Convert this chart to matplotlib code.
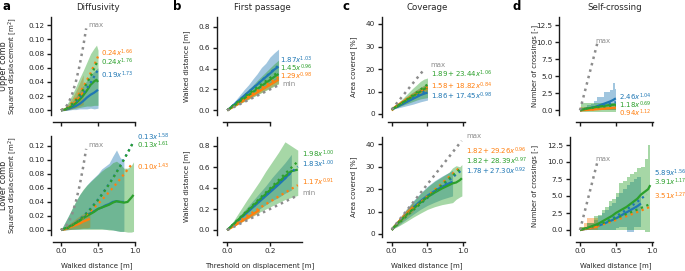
import matplotlib
matplotlib.use("Agg")
import matplotlib.pyplot as plt

W, H = 685, 271
BLUE, ORANGE, GREEN, GREY = "#1f77b4", "#ff7f0e", "#2ca02c", "#8c8c8c"

# ---------------- a: diffusivity ----------------
A_UP_BLUE = dict(x=[0, .05, .1, .15, .2, .25, .3, .35, .4, .45, .5],
                 mean=[0, .0005, .002, .004, .006, .009, .013, .018, .022, .025, .029],
                 lo=[0, 0, 0, .001, .001, .002, .002, .002, .003, .002, .003],
                 hi=[0, .002, .006, .012, .019, .027, .035, .042, .05, .055, .06])
A_UP_ORANGE = dict(x=[0, .05, .1, .15, .2, .25, .3],
                   mean=[0, .001, .003, .007, .012, .018, .025],
                   lo=[0, 0, .001, .002, .004, .006, .008],
                   hi=[0, .003, .009, .017, .027, .038, .05])
A_UP_GREEN = dict(x=[0, .05, .1, .15, .2, .25, .3, .35, .4, .45, .48, .5],
                  mean=[0, .001, .003, .006, .01, .015, .021, .028, .036, .041, .043, .04],
                  lo=[0, 0, .001, .002, .003, .004, .005, .006, .006, .007, .007, .007],
                  hi=[0, .004, .012, .022, .033, .045, .056, .068, .08, .088, .092, .085])
A_UP_FIT = {BLUE: ([0, .1, .2, .3, .4, .5], [0, .0035, .0117, .0237, .0389, .0573]),
            ORANGE: ([0, .1, .2, .3, .4, .5], [0, .0052, .0166, .0326, .0525, .0759]),
            GREEN: ([0, .1, .2, .3, .4, .5], [0, .0042, .0141, .0289, .0478, .0708])}
A_MAX = dict(x=[0, .05, .1, .15, .2, .25, .3, .34],
             y=[0, .0025, .01, .0225, .04, .0625, .09, .1156])
A_UP_TEXT = [(ORANGE, r"$0.24x^{1.66}$"), (GREEN, r"$0.24x^{1.76}$"), (BLUE, r"$0.19x^{1.73}$")]

A_LO_BLUE = dict(x=[0, .05, .1, .15, .2, .25, .3, .35, .4, .45, .5, .55, .6, .65, .7, .75, .8, .85],
                 mean=[0, .002, .004, .007, .01, .014, .017, .021, .024, .027, .03, .032, .035, .037, .04, .041, .04, .04],
                 lo=[0, 0, .0005, .001, .001, .0015, .002, .002, .002, .002, .002, .002, .001, .001, 0, -.001, -.002, -.002],
                 hi=[0, .01, .02, .03, .04, .05, .057, .064, .07, .075, .08, .087, .091, .095, .105, .114, .103, .099])
A_LO_ORANGE = dict(x=[0, .05, .1, .15, .2, .25, .3, .35, .39],
                   mean=[0, .001, .003, .005, .007, .009, .012, .014, .016],
                   lo=[0, 0, .001, .001, .002, .002, .003, .003, .004],
                   hi=[0, .004, .008, .012, .016, .02, .023, .025, .027])
A_LO_GREEN = dict(x=[0, .05, .1, .15, .2, .25, .3, .35, .4, .45, .5, .55, .6, .65, .7, .75, .8, .85, .9, .95, .98],
                  mean=[0, .002, .004, .007, .01, .013, .017, .02, .023, .026, .03, .032, .034, .036, .039, .041, .04, .039, .04, .046, .05],
                  lo=[0, 0, .0005, .001, .001, .001, .001, .001, .001, .001, .001, .001, .001, 0, 0, -.001, -.002, -.002, -.003, -.003, -.002],
                  hi=[0, .01, .02, .031, .041, .05, .058, .064, .069, .074, .079, .084, .088, .091, .096, .098, .094, .088, .088, .092, .097])
A_LO_FIT = {BLUE: ([0, .1, .2, .3, .4, .5, .6, .7, .8, .9, .97],
                   [0, .0034, .0102, .0194, .0306, .0435, .058, .074, .0914, .1101, .1239]),
            ORANGE: ([0, .1, .2, .3, .4, .5, .6, .7, .8, .9, .97],
                     [0, .0037, .01, .0179, .027, .0371, .0482, .06, .0727, .086, .0957]),
            GREEN: ([0, .1, .2, .3, .4, .5, .6, .7, .8, .9, .97],
                    [0, .0032, .0097, .0187, .0297, .0426, .0571, .0732, .0908, .1097, .1238])}
A_LO_TEXT = [(BLUE, r"$0.13x^{1.58}$"), (GREEN, r"$0.13x^{1.61}$"), (ORANGE, r"$0.10x^{1.43}$")]

# ---------------- b: first passage ----------------
B_UP_X = [0, .02, .04, .06, .08, .1, .12, .14, .16, .18, .2, .22, .24]
B_UP_BLUE = dict(x=B_UP_X,
                 mean=[0, .034, .069, .104, .141, .176, .212, .246, .283, .318, .352, .39, .418],
                 lo=[0, .024, .048, .072, .096, .12, .144, .168, .192, .216, .24, .264, .288],
                 hi=[0, .05, .1, .15, .2, .245, .3, .35, .41, .45, .51, .55, .585])
B_UP_ORANGE = dict(x=B_UP_X,
                   mean=[0, .024, .049, .073, .098, .122, .146, .171, .195, .22, .244, .268, .293],
                   lo=[0, .021, .043, .065, .086, .108, .13, .151, .173, .194, .216, .238, .26],
                   hi=[0, .028, .055, .083, .11, .138, .166, .193, .221, .248, .276, .303, .33])
B_UP_GREEN = dict(x=B_UP_X,
                  mean=[0, .029, .057, .087, .115, .145, .175, .203, .232, .262, .29, .32, .348],
                  lo=[0, .021, .042, .063, .084, .105, .126, .147, .168, .189, .21, .231, .252],
                  hi=[0, .04, .08, .12, .16, .2, .24, .285, .325, .365, .405, .445, .48])
B_UP_FIT = {BLUE: ([0, .06, .12, .18, .24], [0, .103, .211, .32, .43]),
            ORANGE: ([0, .06, .12, .18, .24], [0, .082, .162, .24, .319]),
            GREEN: ([0, .06, .12, .18, .24], [0, .098, .19, .28, .368])}
B_UP_MIN = dict(x=[0, .24], y=[0, .24])
B_UP_TEXT = [(BLUE, r"$1.87x^{1.03}$"), (GREEN, r"$1.45x^{0.96}$"), (ORANGE, r"$1.29x^{0.98}$")]

B_LO_BLUE = dict(x=[0, .03, .06, .09, .12, .15, .18, .21, .24, .27, .3],
                 mean=[0, .054, .108, .162, .216, .27, .324, .378, .432, .49, .555],
                 lo=[0, .04, .08, .12, .16, .2, .24, .28, .31, .35, .38],
                 hi=[0, .07, .14, .21, .28, .35, .42, .5, .57, .64, .72])
B_LO_ORANGE = dict(x=[0, .03, .06, .09, .12, .15],
                   mean=[0, .037, .075, .112, .15, .19],
                   lo=[0, .033, .066, .1, .13, .165],
                   hi=[0, .042, .085, .127, .17, .21])
B_LO_GREEN = dict(x=[0, .03, .06, .09, .12, .15, .18, .21, .24, .27, .3, .33],
                  mean=[0, .057, .114, .171, .228, .285, .342, .4, .455, .51, .56, .575],
                  lo=[0, .035, .07, .1, .135, .17, .2, .23, .26, .29, .31, .33],
                  hi=[0, .09, .185, .28, .37, .46, .56, .65, .74, .84, .8, .76])
B_LO_FIT = {BLUE: ([0, .08, .16, .24, .33], [0, .146, .293, .439, .604]),
            ORANGE: ([0, .08, .16, .24, .33], [0, .118, .221, .319, .427]),
            GREEN: ([0, .08, .16, .24, .33], [0, .158, .317, .475, .653])}
B_LO_MIN = dict(x=[0, .33], y=[0, .33])
B_LO_TEXT = [(GREEN, r"$1.98x^{1.00}$"), (BLUE, r"$1.83x^{1.00}$"), (ORANGE, r"$1.17x^{0.91}$")]

# ---------------- c: coverage ----------------
C_UP_X = [0, .05, .1, .15, .2, .25, .3, .35, .4, .45, .5]
C_UP_BLUE = dict(x=C_UP_X,
                 mean=[2, 2.8, 3.6, 4.4, 5.2, 6, 6.8, 7.6, 8.4, 9, 9.5],
                 lo=[2, 2.4, 2.8, 3.2, 3.6, 4, 4.4, 4.9, 5.4, 5.8, 6.2],
                 hi=[2, 3.3, 4.6, 5.9, 7.2, 8.5, 9.7, 10.8, 11.8, 12.6, 13.2])
C_UP_ORANGE = dict(x=C_UP_X,
                   mean=[2, 3.2, 4.3, 5.3, 6.3, 7.3, 8.2, 9.1, 10, 10.8, 11.5],
                   lo=[2, 2.6, 3.4, 4.2, 5, 5.8, 6.6, 7.4, 8.2, 8.9, 9.5],
                   hi=[2, 3.8, 5.2, 6.4, 7.6, 8.8, 9.8, 10.8, 11.8, 12.7, 13.5])
C_UP_GREEN = dict(x=C_UP_X,
                  mean=[2, 3, 4, 5, 6, 7, 8, 9, 10, 11, 11.9],
                  lo=[2, 2.6, 3.2, 3.8, 4.4, 5, 5.6, 6.2, 6.7, 7, 7.3],
                  hi=[2, 3.6, 5.2, 6.8, 8.4, 10, 11.6, 13, 14.5, 15.5, 16])
C_UP_FIT = {BLUE: ([0, .05, .1, .2, .3, .4, .5], [1.86, 2.79, 3.69, 5.47, 7.22, 8.97, 10.71]),
            ORANGE: ([0, .05, .1, .2, .3, .4, .5], [1.58, 3.1, 4.3, 6.45, 8.43, 10.3, 12.09]),
            GREEN: ([0, .05, .1, .2, .3, .4, .5], [1.89, 2.87, 3.93, 6.15, 8.43, 10.76, 13.13])}
C_UP_MAX = dict(x=[0, .465], y=[2, 20.3])
C_UP_TEXT = [(GREEN, r"$1.89 + 23.44x^{1.06}$"), (ORANGE, r"$1.58 + 18.82x^{0.84}$"),
             (BLUE, r"$1.86 + 17.45x^{0.98}$")]

C_LO_BLUE = dict(x=[0, .1, .2, .3, .4, .5, .6, .7, .8, .85],
                 mean=[2, 5.4, 8.8, 11.8, 14.6, 17.1, 19.2, 21, 22.6, 23.3],
                 lo=[2, 4, 6.5, 8.8, 11, 12.8, 14.2, 15.5, 16.5, 17],
                 hi=[2, 6.8, 11, 14.8, 18.2, 21.3, 23.8, 25.8, 27.5, 28.5])
C_LO_ORANGE = dict(x=[0, .1, .2, .3],
                   mean=[2, 5.6, 9, 12], lo=[2, 4.5, 7.5, 10], hi=[2, 6.8, 10.6, 14])
C_LO_GREEN = dict(x=[0, .1, .2, .3, .4, .5, .6, .7, .8, .85, .9, .95, .98],
                  mean=[2, 5.3, 8.4, 11.2, 14, 16.5, 18.5, 20.3, 21.8, 22.6, 23, 24, 24.9],
                  lo=[2, 3.6, 5.5, 7.5, 9.3, 11, 12.2, 13.1, 13.7, 14, 15.5, 16.5, 17],
                  hi=[2, 6.5, 10.5, 14.5, 18, 21, 23.5, 25.5, 27.5, 29.5, 30.5, 30, 31])
C_LO_FX = [0, .05, .1, .2, .3, .4, .5, .6, .7, .8, .9, .97]
C_LO_FIT = {BLUE: (C_LO_FX, [1.78, 3.52, 5.06, 7.99, 10.8, 13.53, 16.21, 18.84, 21.44, 24.01, 26.56, 28.33]),
            ORANGE: (C_LO_FX, [1.82, 3.47, 5.03, 8.06, 11.03, 13.96, 16.86, 19.74, 22.6, 25.44, 28.26, 30.24]),
            GREEN: (C_LO_FX, [1.82, 3.37, 4.86, 7.78, 10.65, 13.49, 16.31, 19.12, 21.91, 24.68, 27.45, 29.38])}
C_LO_MAX = dict(x=[0, .977], y=[2, 41.6])
C_LO_TEXT = [(ORANGE, r"$1.82 + 29.26x^{0.96}$"), (GREEN, r"$1.82 + 28.39x^{0.97}$"),
             (BLUE, r"$1.78 + 27.30x^{0.92}$")]

# ---------------- d: self-crossing ----------------
D_UP_BLUE = dict(x=[0, .05, .1, .15, .2, .24, .33, .42, .46, .49, .5],
                 mean=[0, .08, .18, .3, .45, .6, .95, 1.3, 1.5, 1.7, 1.75],
                 lo=[0, 0, 0, 0, 0, 0, 0, 0, 0, 0, 0],
                 hi=[.3, .5, .8, 1.0, 1.3, 2.0, 2.7, 3.0, 4.0, 3.2, 3.2])
D_UP_ORANGE = dict(x=[0, .1, .2, .3, .4, .5],
                   mean=[0, .05, .12, .2, .3, .4],
                   lo=[0, 0, 0, 0, 0, 0],
                   hi=[.5, .5, .5, .5, .5, .5])
D_UP_GREEN = dict(x=[0, .02, .1, .2, .3, .4, .5],
                  mean=[0, .05, .25, .45, .6, .75, .85],
                  lo=[0, -.2, -.2, -.2, -.2, -.2, -.2],
                  hi=[.3, 1.1, 1.1, 1.1, 1.1, 1.1, 1.1])
D_UP_FX = [0, .05, .1, .2, .3, .4, .5]
D_UP_FIT = {BLUE: (D_UP_FX, [0, .109, .224, .461, .703, .949, 1.196]),
            ORANGE: (D_UP_FX, [0, .033, .071, .155, .244, .337, .432]),
            GREEN: (D_UP_FX, [0, .149, .241, .389, .514, .627, .731])}
D_UP_MAX = dict(x=[0, .24], y=[0, 9.8])
D_UP_TEXT = [(BLUE, r"$2.46x^{1.04}$"), (GREEN, r"$1.18x^{0.69}$"), (ORANGE, r"$0.94x^{1.12}$")]

D_LO_BLUE = dict(x=[0, .05, .1, .15, .2, .25, .3, .35, .4, .45, .5, .55, .6, .65, .7, .75, .8, .85],
                 mean=[0, .1, .2, .3, .45, .6, .8, 1, 1.25, 1.45, 1.7, 2, 2.3, 2.6, 2.9, 3.2, 3.5, 3.9],
                 lo=[0, 0, 0, 0, 0, 0, 0, 0, 0, 0, .3, .5, .5, -.3, -.3, .5, .5, .5],
                 hi=[.3, .5, 1, 1, 1.5, 2, 2.5, 3, 3.5, 4, 4.8, 5.5, 6, 6.6, 7, 7.5, 7.8, 8])
D_LO_ORANGE = dict(x=[0, .05, .1, .15, .2, .25],
                   mean=[0, .1, .2, .3, .4, .5],
                   lo=[0, 0, 0, 0, 0, 0],
                   hi=[.5, 1, 1.8, 1.8, 1.8, 1.8])
D_LO_GREEN = dict(x=[0, .05, .1, .15, .2, .25, .3, .35, .4, .45, .5, .55, .6, .65, .7, .75, .8, .85, .9, .95, .98],
                  mean=[0, .15, .3, .5, .7, .9, 1.2, 1.5, 1.8, 2.1, 2.5, 2.8, 3.1, 3.4, 3.8, 4.2, 4.6, 5.2, 5.6, 6, 6.6],
                  lo=[0, 0, 0, 0, 0, 0, 0, 0, 0, 0, 0, 0, 0, 0, 0, 0, 0, 0, -.3, -.3, -.3],
                  hi=[.5, .5, 1, 1, 2, 2.2, 3, 3.4, 4.2, 4.6, 5.5, 6.9, 7.2, 7.8, 8.3, 8.6, 9.1, 9.3, 10.5, 12.5, 13])
D_LO_FIT = {BLUE: ([0, .1, .2, .3, .4, .5, .6, .7, .8, .9, .93],
                   [0, .162, .478, .901, 1.41, 1.997, 2.655, 3.376, 4.158, 4.997, 5.26]),
            ORANGE: ([0, .1, .2, .3, .4, .5, .6, .7, .8, .9, .97],
                     [0, .189, .455, .761, 1.096, 1.456, 1.835, 2.231, 2.644, 3.071, 3.377]),
            GREEN: ([0, .1, .2, .3, .4, .5, .6, .7, .8, .9, .97],
                    [0, .264, .595, .956, 1.338, 1.738, 2.151, 2.576, 3.011, 3.456, 3.773])}
D_LO_MAX = dict(x=[0, .24], y=[0, 9.9])
D_LO_TEXT = [(BLUE, r"$5.89x^{1.56}$"), (GREEN, r"$3.91x^{1.17}$"), (ORANGE, r"$3.51x^{1.27}$")]

A_TICKS = [0, .02, .04, .06, .08, .1, .12]
B_TICKS = [0, .2, .4, .6, .8]
C_TICKS = [0, 10, 20, 30, 40]
D_TICKS = [0, 2.5, 5, 7.5, 10, 12.5]

# layout in pixels: box=(left, right, top, bottom), px = x0 + sx*v, py = y0 - sy*v
PANELS = [
    dict(box=(51, 138, 17.3, 115), xm=(61, 74), ym=(110.3, 708.3), xsp=122, xb=(-.11, 1.0),
         series=[A_UP_BLUE, A_UP_ORANGE, A_UP_GREEN], fit=A_UP_FIT, ref=A_MAX, refname="max",
         refpos=(.365, .1205), text=A_UP_TEXT, tpos=(.54, [.081, .068, .050]),
         yt=A_TICKS, yfmt="{:.2f}", xt=[0, .5, 1], yl="Squared displacement [m$^2$]", ylx=19.5),
    dict(box=(51, 138, 135.7, 235), xm=(61, 74), ym=(230, 702), xsp=241.7, xb=(-.11, 1.0),
         series=[A_LO_BLUE, A_LO_ORANGE, A_LO_GREEN], fit=A_LO_FIT, ref=A_MAX, refname="max",
         refpos=(.365, .121), text=A_LO_TEXT, tpos=(1.03, [.132, .120, .089]),
         yt=A_TICKS, yfmt="{:.2f}", xt=[0, .5, 1], yl="Squared displacement [m$^2$]", ylx=19.5,
         xl="Walked distance [m]", xlx=96.5),
    dict(box=(216.7, 300, 16.7, 115), xm=(227.3, 213.5), ym=(110.3, 104.5), xsp=122, xb=(-.02, .2),
         series=[B_UP_BLUE, B_UP_ORANGE, B_UP_GREEN], fit=B_UP_FIT, ref=B_UP_MIN, refname="min",
         refpos=(.256, .252), text=B_UP_TEXT, tpos=(.247, [.48, .405, .328]),
         yt=B_TICKS, yfmt="{:.1f}", xt=[0, .2], yl="Walked distance [m]", ylx=190),
    dict(box=(216.7, 302, 136.7, 235), xm=(227.3, 213.5), ym=(230, 105), xsp=241.7, xb=(-.02, .35),
         series=[B_LO_BLUE, B_LO_ORANGE, B_LO_GREEN], fit=B_LO_FIT, ref=B_LO_MIN, refname="min",
         refpos=(.352, .352), text=B_LO_TEXT, tpos=(.35, [.724, .626, .45]),
         yt=B_TICKS, yfmt="{:.1f}", xt=[0, .2], yl="Walked distance [m]", ylx=190,
         xl="Threshold on displacement [m]", xlx=260),
    dict(box=(381.7, 466, 16.7, 116.7), xm=(391.7, 71.6), ym=(114, 2.25), xsp=122, xb=(-.05, 1.02),
         series=[C_UP_BLUE, C_UP_ORANGE, C_UP_GREEN], fit=C_UP_FIT, ref=C_UP_MAX, refname="max",
         refpos=(.535, 21.8), text=C_UP_TEXT, tpos=(.545, [17.8, 12.4, 7.7]),
         yt=C_TICKS, yfmt="{:.0f}", xt=[0, .5, 1], yl="Area covered [%]", ylx=357),
    dict(box=(381.7, 466, 136.7, 236.7), xm=(391.7, 71.6), ym=(234, 2.24), xsp=241.7, xb=(-.07, 1.02),
         series=[C_LO_BLUE, C_LO_ORANGE, C_LO_GREEN], fit=C_LO_FIT, ref=C_LO_MAX, refname="max",
         refpos=(1.04, 43.75), text=C_LO_TEXT, tpos=(1.04, [36.7, 32.3, 27.8]),
         yt=C_TICKS, yfmt="{:.0f}", xt=[0, .5, 1], yl="Area covered [%]", ylx=357,
         xl="Walked distance [m]", xlx=427),
    dict(box=(559.3, 654, 17.3, 115), xm=(580, 71.7), ym=(110.3, 6.8), xsp=122, xb=(-.05, 1.02),
         series=[D_UP_BLUE, D_UP_ORANGE, D_UP_GREEN], fit=D_UP_FIT, ref=D_UP_MAX, refname="max",
         refpos=(.21, 10.2), text=D_UP_TEXT, tpos=(.548, [1.85, .75, -.45]), step="post",
         yt=D_TICKS, yfmt="{:.1f}", xt=[0, .5, 1], yl="Number of crossings [-]", ylx=538.5),
    dict(box=(570, 654, 136.7, 235), xm=(580, 71.7), ym=(230, 6.8), xsp=241.7, xb=(-.05, 1.02),
         series=[D_LO_BLUE, D_LO_ORANGE, D_LO_GREEN], fit=D_LO_FIT, ref=D_LO_MAX, refname="max",
         refpos=(.22, 10.4), text=D_LO_TEXT, tpos=(1.03, [8.4, 7.0, 4.9]), step="post",
         yt=D_TICKS, yfmt="{:.1f}", xt=[0, .5, 1], yl="Number of crossings [-]", ylx=538.5,
         xl="Walked distance [m]", xlx=616),
]

TITLES = [("a", "Diffusivity", 6, 98), ("b", "First passage", 177, 262.5),
          ("c", "Coverage", 346.5, 427.5), ("d", "Self-crossing", 517, 615)]

TXT = "0.15"
FS_TICK, FS_LABEL, FS_NOTE = 5.2, 5.0, 5.0
plt.rcParams["font.family"] = ["DejaVu Sans"]
plt.rcParams["mathtext.fontset"] = "dejavusans"

fig = plt.figure(figsize=(W / 100, H / 100), dpi=100)
colors = [BLUE, ORANGE, GREEN]

for p in PANELS:
    left, right, top, bottom = p["box"]
    ax = fig.add_axes([left / W, 1 - bottom / H, (right - left) / W, (bottom - top) / H])
    x0, sx = p["xm"]
    y0, sy = p["ym"]
    ax.set_xlim((left - x0) / sx, (right - x0) / sx)
    ax.set_ylim((y0 - bottom) / sy, (y0 - top) / sy)
    ax.patch.set_visible(False)

    step = p.get("step")
    for s, c in zip(p["series"], colors):
        ax.fill_between(s["x"], s["lo"], s["hi"], color=c, alpha=0.42, lw=0, step=step)
    for s, c in zip(p["series"], colors):
        ax.plot(s["x"], s["mean"], color=c, lw=1.6, solid_capstyle="butt")
    for c in colors:
        fx, fy = p["fit"][c]
        ax.plot(fx, fy, color=c, ls=":", lw=1.6)
    ax.plot(p["ref"]["x"], p["ref"]["y"], color=GREY, ls=":", lw=1.8)
    ax.text(*p["refpos"], p["refname"], color=GREY, fontsize=FS_NOTE, ha="left", va="center")

    tx, tys = p["tpos"]
    for (c, label), ty in zip(p["text"], tys):
        ax.text(tx, ty, label, color=c, fontsize=FS_NOTE, ha="left", va="center", clip_on=False)

    # axes styling
    for side in ("top", "right"):
        ax.spines[side].set_visible(False)
    ax.spines["bottom"].set_position(("outward", (p["xsp"] - bottom) * 0.72))
    ax.spines["bottom"].set_bounds(*p["xb"])
    for side in ("left", "bottom"):
        ax.spines[side].set_linewidth(1.0)
        ax.spines[side].set_color("0.1")
    ax.set_yticks(p["yt"])
    ax.set_yticklabels([p["yfmt"].format(v) for v in p["yt"]])
    ax.set_xticks(p["xt"])
    if "xl" in p:
        ax.set_xticklabels(["{:.1f}".format(v) for v in p["xt"]])
        ax.set_xlabel(p["xl"], fontsize=FS_LABEL, color=TXT)
        ax.xaxis.set_label_coords((p["xlx"] - left) / (right - left), (bottom - 262.5) / (bottom - top))
    else:
        ax.set_xticklabels([])
    ax.tick_params(length=3, width=1, labelsize=FS_TICK, colors="0.1", labelcolor=TXT, pad=1.8)
    ax.set_ylabel(p["yl"], fontsize=FS_LABEL, color=TXT)
    ax.yaxis.set_label_coords((p["ylx"] - left) / (right - left), 0.5)

for letter, title, lx, tx in TITLES:
    fig.text(lx / W, 1 - 6 / H, letter, fontsize=8.5, fontweight="bold", ha="center", va="center")
    fig.text(tx / W, 1 - 7.5 / H, title, fontsize=6.2, color=TXT, ha="center", va="center")

fig.text(4 / W, 1 - 66 / H, "Upper comb", rotation=90, fontsize=5.8, color=TXT, ha="center", va="center")
fig.text(4 / W, 1 - 185 / H, "Lower comb", rotation=90, fontsize=5.8, color=TXT, ha="center", va="center")

fig.savefig("out.png", dpi=100)
